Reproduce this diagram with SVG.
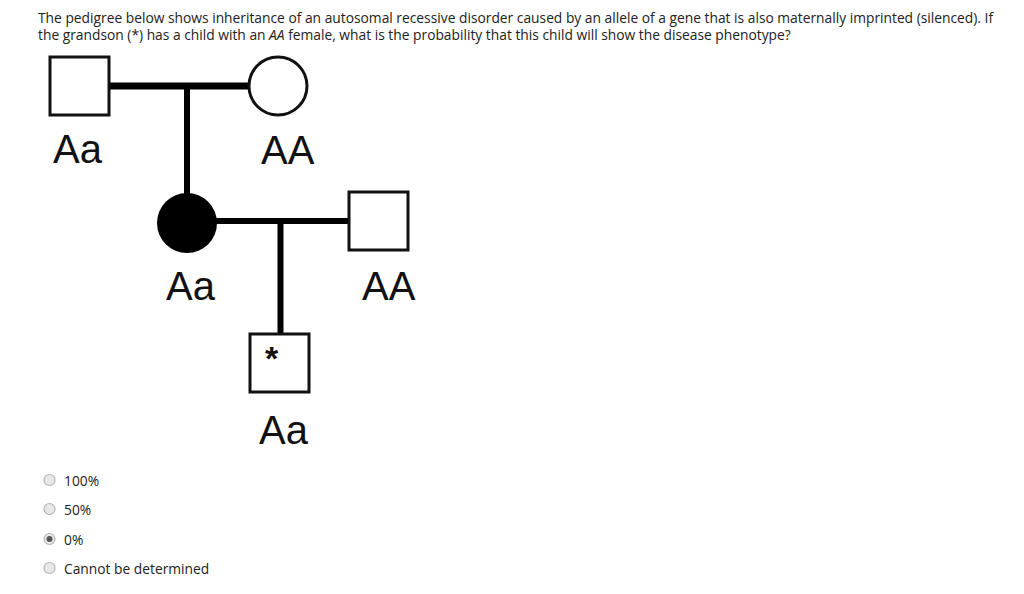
<svg xmlns="http://www.w3.org/2000/svg" width="1024" height="594" viewBox="0 0 1024 594">
<style>
.q{font-family:"Open Sans","Noto Sans",sans-serif;font-size:13.8px;fill:#222}
.o{font-family:"Open Sans","Noto Sans",sans-serif;font-size:13.8px;fill:#222}
.g{font-family:"Liberation Sans",Arial,sans-serif;font-size:40px;fill:#111}
.n{fill:#fff;stroke:#111;stroke-width:3}
.c{fill:none;stroke:#000}
.r{fill:#e8e8e8;stroke:#b5b5b5;stroke-width:1.2}
</style>
<rect width="1024" height="594" fill="#fff"/>
<g id="question">
<text class="q"><tspan x="38" y="23">The pedigree below shows inheritance of an autosomal recessive disorder caused by an allele of a gene that is also maternally imprinted (silenced). If</tspan><tspan x="38" y="39.500">the grandson (*) has a child with an <tspan font-style="italic">AA</tspan> female, what is the probability that this child will show the disease phenotype?</tspan></text>
</g>
<g id="connectors">
<line class="c" x1="109" y1="86" x2="250" y2="86" stroke-width="7"/>
<line class="c" x1="187" y1="86" x2="187" y2="194" stroke-width="6"/>
<line class="c" x1="216" y1="221" x2="349" y2="221" stroke-width="6"/>
<line class="c" x1="280.500" y1="221" x2="280.500" y2="334" stroke-width="6"/>
</g>
<g id="grandfather"><rect class="n" x="50" y="57" width="59" height="58"/><text class="g" x="53" y="163">Aa</text></g>
<g id="grandmother"><circle class="n" cx="278" cy="86" r="29"/><text class="g" x="261" y="164">AA</text></g>
<g id="mother"><circle cx="187" cy="223" r="30" fill="#000"/><text class="g" x="166" y="300">Aa</text></g>
<g id="father"><rect class="n" x="349" y="192" width="59" height="58"/><text class="g" x="362" y="300">AA</text></g>
<g id="grandson"><rect class="n" x="250" y="334" width="59" height="58"/><text x="265" y="370" font-family="Liberation Sans,Arial,sans-serif" font-size="34" font-weight="bold" fill="#111">*</text><text class="g" x="259" y="444">Aa</text></g>
<g id="options">
<circle class="r" cx="49.500" cy="480" r="5.500"/><text class="o" x="64" y="486">100%</text>
<circle class="r" cx="49.500" cy="509" r="5.500"/><text class="o" x="64" y="515">50%</text>
<circle class="r" cx="49.500" cy="539" r="5.500"/><circle cx="49.500" cy="539" r="3" fill="#555"/><text class="o" x="64" y="545">0%</text>
<circle class="r" cx="49.500" cy="568" r="5.500"/><text class="o" x="64" y="574">Cannot be determined</text>
</g>
</svg>
